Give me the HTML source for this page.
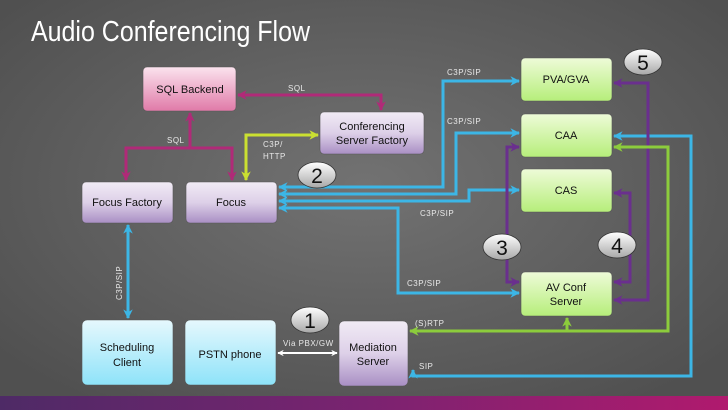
<!DOCTYPE html>
<html><head><meta charset="utf-8"><style>
html,body{margin:0;padding:0;width:728px;height:410px;overflow:hidden;background:#626262}
svg{display:block}
text{font-family:"Liberation Sans",sans-serif}
</style></head><body>
<svg width="728" height="410" viewBox="0 0 728 410" xmlns="http://www.w3.org/2000/svg">
<defs>
<radialGradient id="bg" cx="50%" cy="45%" r="65%"><stop offset="0" stop-color="#727272"/><stop offset="1" stop-color="#505050"/></radialGradient>
<linearGradient id="band" x1="0" x2="1"><stop offset="0" stop-color="#4e2a66"/><stop offset="0.5" stop-color="#7a2370"/><stop offset="1" stop-color="#b01a6e"/></linearGradient>
<linearGradient id="pink" x1="0" y1="0" x2="0" y2="1"><stop offset="0" stop-color="#fbe3ee"/><stop offset="1" stop-color="#e07aa8"/></linearGradient>
<linearGradient id="purp" x1="0" y1="0" x2="0" y2="1"><stop offset="0" stop-color="#f1ebf5"/><stop offset="0.5" stop-color="#ddd0e8"/><stop offset="1" stop-color="#a98fc4"/></linearGradient>
<linearGradient id="grn" x1="0" y1="0" x2="0" y2="1"><stop offset="0" stop-color="#eefbd8"/><stop offset="1" stop-color="#b6ee7a"/></linearGradient>
<linearGradient id="cyan" x1="0" y1="0" x2="0" y2="1"><stop offset="0" stop-color="#e6f8fd"/><stop offset="1" stop-color="#8ee3f9"/></linearGradient>
<linearGradient id="circ" x1="0" y1="0" x2="0" y2="1"><stop offset="0" stop-color="#ffffff"/><stop offset="1" stop-color="#a8a8a8"/></linearGradient>
<marker id="ab" viewBox="0 0 10 10" refX="9" refY="5" markerWidth="3.2" markerHeight="3.2" orient="auto-start-reverse"><path d="M0,0L10,5L0,10L3,5z" fill="#3cb6e6"/></marker>
<marker id="ap" viewBox="0 0 10 10" refX="9" refY="5" markerWidth="3.2" markerHeight="3.2" orient="auto-start-reverse"><path d="M0,0L10,5L0,10L3,5z" fill="#b02a78"/></marker>
<marker id="ay" viewBox="0 0 10 10" refX="9" refY="5" markerWidth="3.2" markerHeight="3.2" orient="auto-start-reverse"><path d="M0,0L10,5L0,10L3,5z" fill="#cbe031"/></marker>
<marker id="av" viewBox="0 0 10 10" refX="9" refY="5" markerWidth="3.2" markerHeight="3.2" orient="auto-start-reverse"><path d="M0,0L10,5L0,10L3,5z" fill="#6a2f8e"/></marker>
<marker id="ag" viewBox="0 0 10 10" refX="9" refY="5" markerWidth="3.2" markerHeight="3.2" orient="auto-start-reverse"><path d="M0,0L10,5L0,10L3,5z" fill="#8ccc3c"/></marker>
<marker id="aw" viewBox="0 0 10 10" refX="9" refY="5" markerWidth="3.2" markerHeight="3.2" orient="auto-start-reverse"><path d="M0,0L10,5L0,10L3,5z" fill="#ffffff"/></marker>
</defs>
<rect width="728" height="410" fill="url(#bg)"/>
<rect y="396" width="728" height="14" fill="url(#band)"/>
<text x="31" y="41" font-size="29" fill="#fff" textLength="279" lengthAdjust="spacingAndGlyphs">Audio Conferencing Flow</text>

<g fill="none" stroke-width="3" stroke-linejoin="miter">
<!-- pink SQL -->
<path d="M381,110 V95 H238" stroke="#b02a78" marker-end="url(#ap)" marker-start="url(#ap)"/>
<path d="M190,113 V148" stroke="#b02a78" marker-start="url(#ap)"/>
<path d="M126,180 V148 H232 V180" stroke="#b02a78" marker-end="url(#ap)" marker-start="url(#ap)"/>
<!-- yellow -->
<path d="M246,180 V135 H318" stroke="#cbe031" marker-end="url(#ay)" marker-start="url(#ay)"/>
<!-- blue focus -->
<path d="M279,187 H443 V81 H519" stroke="#3cb6e6" marker-end="url(#ab)" marker-start="url(#ab)"/>
<path d="M279,194 H456 V133 H519" stroke="#3cb6e6" marker-end="url(#ab)" marker-start="url(#ab)"/>
<path d="M279,201 H469 V190 H519" stroke="#3cb6e6" marker-end="url(#ab)" marker-start="url(#ab)"/>
<path d="M279,208 H398 V293 H519" stroke="#3cb6e6" marker-end="url(#ab)" marker-start="url(#ab)"/>
<path d="M128,225 V318" stroke="#3cb6e6" marker-end="url(#ab)" marker-start="url(#ab)"/>
<!-- blue SIP -->
<path d="M614,136 H691 V376 H413 V370" stroke="#3cb6e6" marker-start="url(#ab)" marker-end="url(#ab)"/>
<!-- purple -->
<path d="M519,147 H507 V282 H519" stroke="#6a2f8e" marker-start="url(#av)" marker-end="url(#av)"/>
<path d="M614,193 H630 V282 H614" stroke="#6a2f8e" marker-start="url(#av)" marker-end="url(#av)"/>
<path d="M614,83 H648 V300 H614" stroke="#6a2f8e" marker-start="url(#av)" marker-end="url(#av)"/>
<!-- green -->
<path d="M614,147 H668 V331 H410" stroke="#8ccc3c" marker-start="url(#ag)" marker-end="url(#ag)"/>
<path d="M567,331 V318" stroke="#8ccc3c" marker-end="url(#ag)"/>
<!-- white -->
<path d="M278,353 H337" stroke="#fff" stroke-width="2" marker-start="url(#aw)" marker-end="url(#aw)"/>
</g>

<g font-size="8" fill="#e8e8e8" letter-spacing="0.5">
<text x="288" y="91">SQL</text>
<text x="167" y="143">SQL</text>
<text x="263" y="147">C3P/</text>
<text x="263" y="159">HTTP</text>
<text x="447" y="75">C3P/SIP</text>
<text x="447" y="124">C3P/SIP</text>
<text x="420" y="216">C3P/SIP</text>
<text x="407" y="286">C3P/SIP</text>
<text x="415" y="326">(S)RTP</text>
<text x="419" y="369">SIP</text>
<text x="283" y="346">Via PBX/GW</text>
<text transform="translate(122,300) rotate(-90)">C3P/SIP</text>
</g>

<g stroke="#555" stroke-width="0.6" font-size="11" text-anchor="middle" fill="#111">
<rect x="143" y="67" width="93" height="44" rx="4" fill="url(#pink)"/>
<rect x="320" y="112" width="104" height="42" rx="4" fill="url(#purp)"/>
<rect x="82" y="182" width="91" height="41" rx="4" fill="url(#purp)"/>
<rect x="186" y="182" width="91" height="41" rx="4" fill="url(#purp)"/>
<rect x="521" y="58" width="91" height="43" rx="4" fill="url(#grn)"/>
<rect x="521" y="114" width="91" height="43" rx="4" fill="url(#grn)"/>
<rect x="521" y="169" width="91" height="43" rx="4" fill="url(#grn)"/>
<rect x="521" y="272" width="91" height="44" rx="4" fill="url(#grn)"/>
<rect x="82" y="320" width="91" height="65" rx="5" fill="url(#cyan)"/>
<rect x="185" y="320" width="91" height="65" rx="5" fill="url(#cyan)"/>
<rect x="339" y="321" width="69" height="65" rx="5" fill="url(#purp)"/>
</g>
<g font-size="11" text-anchor="middle" fill="#111">
<text x="190" y="93">SQL Backend</text>
<text x="372" y="130">Conferencing</text>
<text x="372" y="144">Server Factory</text>
<text x="127" y="206">Focus Factory</text>
<text x="231" y="206">Focus</text>
<text x="566" y="83">PVA/GVA</text>
<text x="566" y="139">CAA</text>
<text x="566" y="194">CAS</text>
<text x="566" y="291">AV Conf</text>
<text x="566" y="305">Server</text>
<text x="127" y="351">Scheduling</text>
<text x="127" y="366">Client</text>
<text x="230" y="358">PSTN phone</text>
<text x="373" y="351">Mediation</text>
<text x="373" y="365">Server</text>
</g>
<g stroke="#333" stroke-width="0.8" fill="url(#circ)">
<ellipse cx="310" cy="320" rx="19" ry="13"/>
<ellipse cx="317" cy="175" rx="19" ry="13"/>
<ellipse cx="502" cy="247" rx="19" ry="13"/>
<ellipse cx="617" cy="245" rx="19" ry="13"/>
<ellipse cx="643" cy="62" rx="19" ry="13"/>
</g>
<g font-size="21" text-anchor="middle" fill="#111">
<text x="310" y="328">1</text>
<text x="317" y="183">2</text>
<text x="502" y="255">3</text>
<text x="617" y="253">4</text>
<text x="643" y="70">5</text>
</g>
</svg>
</body></html>
